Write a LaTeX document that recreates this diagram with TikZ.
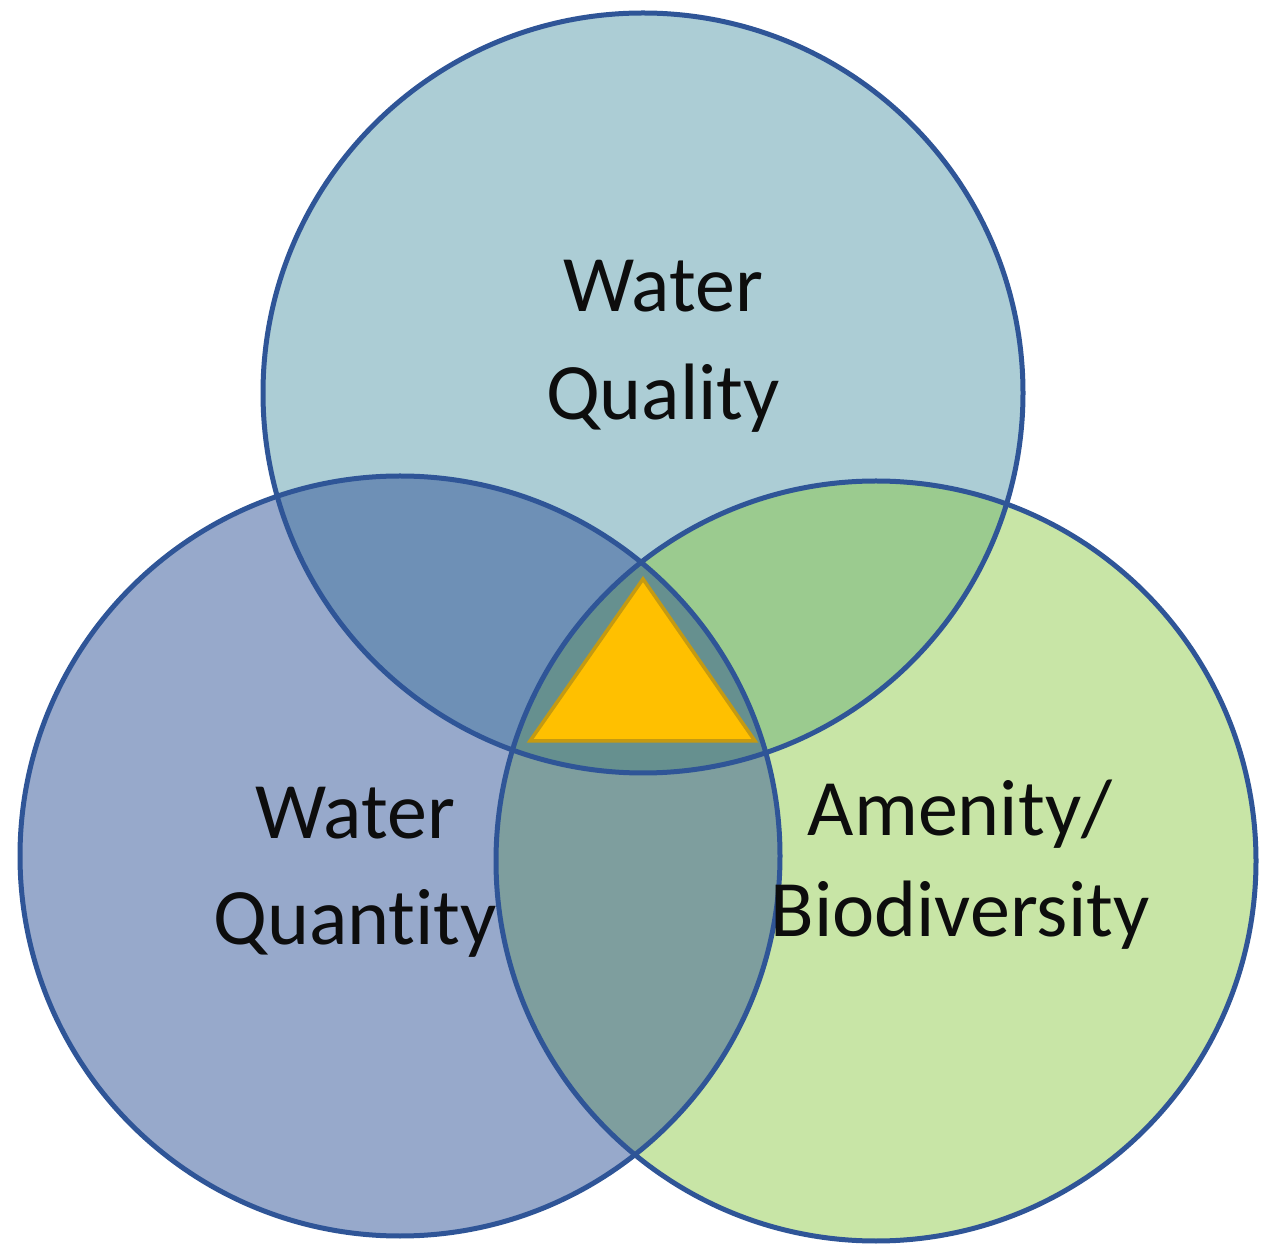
\documentclass[tikz,border=0pt]{standalone}
\usepackage{fontspec}
\setmainfont{Carlito}[Ligatures=NoCommon]
\usetikzlibrary{positioning}
\definecolor{ringblue}{HTML}{2F5597}
\definecolor{qualityfill}{HTML}{ACCDD5}
\definecolor{quantityfill}{HTML}{97A9CB}
\definecolor{amenityfill}{HTML}{C8E5A6}
\definecolor{qualquantfill}{HTML}{6E90B6}
\definecolor{qualamenfill}{HTML}{9BCB8F}
\definecolor{quantamenfill}{HTML}{7E9E9E}
\definecolor{allfill}{HTML}{66908F}
\definecolor{coregold}{HTML}{FFC000}
\definecolor{coreedge}{HTML}{C49A12}
\newcommand{\qualitycirc}{(643,861) circle (380)}
\newcommand{\quantitycirc}{(400,398) circle (380)}
\newcommand{\amenitycirc}{(876,393) circle (380)}
\tikzset{
    ring/.style = {draw=ringblue, line width=5pt},
    label/.style = {align=center, text=black!95, inner sep=0pt},
    core/.style = {fill=coregold, draw=coreedge, line width=3.5pt, line join=miter}
}
\begin{document}
\begin{tikzpicture}[x=1pt, y=1pt]
  \useasboundingbox[fill=white] (0,0) rectangle (1280,1254);

  % single areas
  \fill[qualityfill] \qualitycirc;
  \fill[quantityfill] \quantitycirc;
  \fill[amenityfill] \amenitycirc;

  % pairwise overlaps
  \begin{scope}
    \clip \qualitycirc;
    \fill[qualquantfill] \quantitycirc;
    \fill[qualamenfill] \amenitycirc;
  \end{scope}
  \begin{scope}
    \clip \quantitycirc;
    \fill[quantamenfill] \amenitycirc;
  \end{scope}

  % centre
  \begin{scope}
    \clip \qualitycirc;
    \clip \quantitycirc;
    \fill[allfill] \amenitycirc;
  \end{scope}

  \draw[ring] \qualitycirc;
  \draw[ring] \quantitycirc;
  \draw[ring] \amenitycirc;

  \coordinate (apex) at (643,675);
  \coordinate (baseL) at (530,513);
  \coordinate (baseR) at (755,513);
  \draw[core] (apex) -- (baseL) -- (baseR) -- cycle;

  \node[label, font=\fontsize{80}{108}\selectfont] (quality) at (663,908) {Water\\Quality};
  \node[label, font=\fontsize{80}{106}\selectfont] (quantity) at (355,382) {Water\\Quantity};
  \node[label, font=\fontsize{80}{101}\selectfont] (amenity) at (960,389) {Amenity/\\Biodiversity};
\end{tikzpicture}
\end{document}
